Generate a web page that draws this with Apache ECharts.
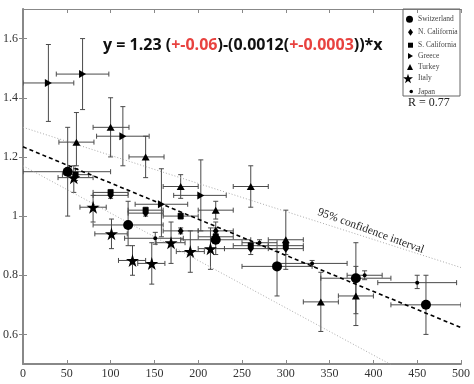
<!DOCTYPE html>
<html>
<head>
<meta charset="utf-8">
<script src="https://cdn.jsdelivr.net/npm/echarts@6/dist/echarts.min.js"></script>
<style>
html,body{margin:0;padding:0;background:#fff;}
#chart{width:474px;height:384px;}
</style>
</head>
<body>
<div id="chart"></div>
<script>
// Rows: [x, y, xLow, xHigh, yLow, yHigh]
const switzerland = [
  [51, 1.15, 0, 100, 1.00, 1.30],
  [120, 0.97, 80, 160, 0.90, 1.05],
  [220, 0.92, 180, 260, 0.87, 0.98],
  [290, 0.83, 250, 330, 0.73, 0.88],
  [380, 0.79, 340, 420, 0.67, 0.91],
  [460, 0.70, 420, 500, 0.60, 0.80]
];
const nCalifornia = [
  [100, 1.07, 80, 120, 1.06, 1.08],
  [140, 1.01, 120, 160, 1.00, 1.02],
  [180, 0.95, 160, 200, 0.94, 0.96],
  [220, 0.95, 200, 240, 0.94, 0.96],
  [260, 0.89, 230, 290, 0.87, 0.91],
  [300, 0.89, 280, 320, 0.87, 0.91]
];
const sCalifornia = [
  [60, 1.14, 45, 75, 1.12, 1.16],
  [100, 1.08, 80, 120, 1.07, 1.09],
  [140, 1.02, 120, 160, 1.01, 1.03],
  [180, 1.00, 160, 200, 0.99, 1.01],
  [220, 0.93, 200, 240, 0.92, 0.94],
  [260, 0.90, 240, 280, 0.89, 0.91],
  [300, 0.90, 280, 320, 0.89, 0.91]
];
const greece = [
  [29, 1.45, 0, 58, 1.32, 1.58],
  [68, 1.48, 38, 98, 1.36, 1.60],
  [114, 1.27, 84, 144, 1.17, 1.37],
  [158, 1.04, 128, 188, 0.93, 1.16],
  [203, 1.07, 172, 232, 0.95, 1.19]
];
const turkey = [
  [61, 1.25, 41, 81, 1.17, 1.35],
  [100, 1.30, 80, 121, 1.20, 1.40],
  [140, 1.20, 121, 161, 1.13, 1.27],
  [180, 1.10, 160, 200, 1.06, 1.14],
  [220, 1.02, 200, 240, 0.99, 1.05],
  [260, 1.10, 240, 280, 1.03, 1.17],
  [300, 0.92, 280, 320, 0.82, 1.02],
  [340, 0.71, 320, 360, 0.61, 0.81],
  [380, 0.73, 360, 400, 0.63, 0.83]
];
const italy = [
  [58, 1.13, 40, 80, 1.08, 1.17],
  [80, 1.03, 65, 95, 0.98, 1.07],
  [101, 0.94, 82, 119, 0.89, 0.99],
  [125, 0.85, 109, 140, 0.80, 0.90],
  [147, 0.84, 131, 162, 0.77, 0.91],
  [169, 0.91, 152, 185, 0.84, 0.98],
  [191, 0.88, 175, 207, 0.81, 0.95],
  [214, 0.89, 200, 230, 0.82, 0.96]
];
const japan = [
  [151, 0.925, 116, 183, 0.905, 0.945],
  [270, 0.91, 250, 290, 0.90, 0.92],
  [330, 0.84, 290, 370, 0.83, 0.85],
  [390, 0.80, 370, 410, 0.785, 0.815],
  [450, 0.775, 405, 495, 0.755, 0.80]
];
const fitLine = [[0, 1.234], [500, 0.623]];
const upperCI = [[0, 1.30], [500, 0.826]];
const lowerCI = [[0, 1.17], [420, 0.498]];
const yTicks = [0.6, 0.8, 1, 1.2, 1.4, 1.6];

const starPath = 'path://M50,0 L61,35 L98,35 L68,57 L79,91 L50,70 L21,91 L32,57 L2,35 L39,35 Z';
const rightTri = 'path://M0,0 L10,6 L0,12 Z';

const groups = [
  {name: 'Switzerland', data: switzerland, symbol: 'circle', size: 10, lw: 7, lh: 7, cy: 18.7},
  {name: 'N. California', data: nCalifornia, symbol: 'diamond', size: [6, 8], lw: 5, lh: 7, cy: 31.7},
  {name: 'S. California', data: sCalifornia, symbol: 'rect', size: 6, lw: 5, lh: 5, cy: 43.7},
  {name: 'Greece', data: greece, symbol: rightTri, size: [7, 8], lw: 5, lh: 6, cy: 55},
  {name: 'Turkey', data: turkey, symbol: 'triangle', size: [8, 7], lw: 6, lh: 6, cy: 66},
  {name: 'Italy', data: italy, symbol: starPath, size: 13, lw: 10, lh: 10, cy: 78.7},
  {name: 'Japan', data: japan, symbol: 'circle', size: 4, lw: 3.5, lh: 3.5, cy: 89.3}
];

function errRender(params, api) {
  const x = api.value(0), y = api.value(1);
  const pL = api.coord([api.value(2), y]);
  const pH = api.coord([api.value(3), y]);
  const pB = api.coord([x, api.value(4)]);
  const pT = api.coord([x, api.value(5)]);
  const c = 2.5;
  const st = {stroke: '#4a4a4a', lineWidth: 1};
  const ln = (x1, y1, x2, y2) => ({type: 'line', shape: {x1, y1, x2, y2}, style: st});
  return {type: 'group', children: [
    ln(pL[0], pL[1], pH[0], pH[1]),
    ln(pL[0], pL[1] - c, pL[0], pL[1] + c),
    ln(pH[0], pH[1] - c, pH[0], pH[1] + c),
    ln(pB[0], pB[1], pT[0], pT[1]),
    ln(pB[0] - c, pB[1], pB[0] + c, pB[1]),
    ln(pT[0] - c, pT[1], pT[0] + c, pT[1])
  ]};
}

const series = [];
series.push({type: 'line', data: upperCI, showSymbol: false, silent: true,
  lineStyle: {color: '#aaa', width: 1, type: [1, 2]}});
series.push({type: 'line', data: lowerCI, showSymbol: false, silent: true,
  lineStyle: {color: '#aaa', width: 1, type: [1, 2]}});
groups.forEach(g => {
  series.push({type: 'custom', renderItem: errRender, data: g.data, silent: true, clip: true, z: 2});
});
series.push({type: 'line', data: fitLine, showSymbol: false, silent: true, z: 3,
  lineStyle: {color: '#000', width: 1.6, type: [4, 3]}});
groups.forEach(g => {
  series.push({type: 'scatter', name: g.name, data: g.data.map(r => [r[0], r[1]]),
    symbol: g.symbol, symbolSize: g.size, itemStyle: {color: '#000', opacity: 1}, z: 4});
});

const legends = groups.map(g => ({
  data: [{name: g.name, icon: g.symbol}],
  left: 413 - g.lw,
  top: g.cy - g.lh / 2,
  itemWidth: g.lw, itemHeight: g.lh,
  padding: 0, itemGap: 0,
  selectedMode: false,
  itemStyle: {color: '#000'},
  textStyle: {fontFamily: 'Liberation Serif', fontSize: 7.5, color: '#444', padding: [0, 0, 0, 0]}
}));

const chart = echarts.init(document.getElementById('chart'), null, {renderer: 'canvas'});
chart.setOption({
  backgroundColor: '#fff',
  animation: false,
  grid: {left: 21, right: 13, top: 9, bottom: 20, containLabel: false},
  xAxis: [
    {type: 'value', min: 0, max: 500, interval: 50, position: 'bottom',
      axisLine: {show: true, lineStyle: {color: '#888', width: 2}},
      axisTick: {show: true, inside: true, length: 4, lineStyle: {color: '#888'}},
      axisLabel: {fontFamily: 'Liberation Serif', fontSize: 12, color: '#333', margin: 4},
      splitLine: {show: false}},
    {type: 'value', min: 0, max: 500, interval: 50, position: 'top',
      axisLine: {show: true, lineStyle: {color: '#888', width: 1}},
      axisTick: {show: true, inside: true, length: 4, lineStyle: {color: '#888'}},
      axisLabel: {show: false}, splitLine: {show: false}}
  ],
  yAxis: [
    {type: 'value', min: 0.5, max: 1.7, position: 'left',
      axisLine: {show: true, lineStyle: {color: '#888', width: 2}},
      axisTick: {show: true, inside: true, length: 4, customValues: yTicks, lineStyle: {color: '#888'}},
      axisLabel: {fontFamily: 'Liberation Serif', fontSize: 12, color: '#333', margin: 5, customValues: yTicks},
      splitLine: {show: false}},
    {type: 'value', min: 0.5, max: 1.7, position: 'right',
      axisLine: {show: true, lineStyle: {color: '#888', width: 1}},
      axisTick: {show: true, inside: true, length: 4, customValues: yTicks, lineStyle: {color: '#888'}},
      axisLabel: {show: false, customValues: yTicks}, splitLine: {show: false}}
  ],
  legend: legends,
  series: series,
  graphic: [
    {type: 'rect', shape: {x: 403, y: 9, width: 57, height: 87}, style: {fill: 'none', stroke: '#666', lineWidth: 1}, z: 10},
    {type: 'text', left: 408, top: 97, style: {text: 'R = 0.77', font: '12px "Liberation Serif"', fill: '#222'}, z: 10},
    {type: 'text', x: 320, y: 206, rotation: -0.35,
      style: {text: '95% confidence interval', font: '11.5px "Liberation Serif"', fill: '#222'}, z: 10},
    {type: 'text', left: 103, top: 37, z: 10,
      style: {
        text: '{a|y = 1.23 (}{r|+-0.06}{a|)-(0.0012(}{r|+-0.0003}{a|))*x}',
        rich: {
          a: {font: 'bold 16px "Open Sans"', fill: '#111'},
          r: {font: 'bold 16px "Open Sans"', fill: '#e8423f'}
        }
      }}
  ]
});
</script>
</body>
</html>
